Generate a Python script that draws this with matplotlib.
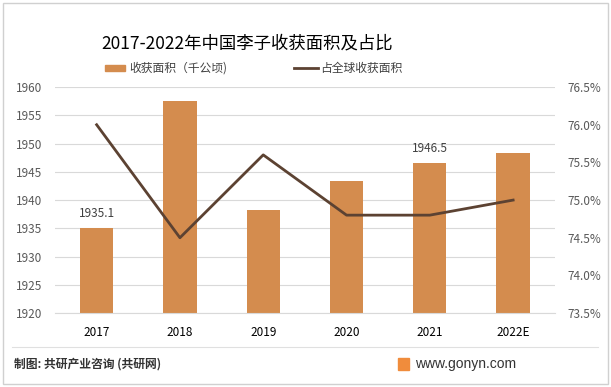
import numpy as np
import matplotlib.pyplot as plt
from matplotlib.patches import Rectangle
from matplotlib.lines import Line2D

plt.rcParams['font.family'] = ['Noto Sans CJK SC', 'DejaVu Sans']

years = ['2017', '2018', '2019', '2020', '2021', '2022E']
area = [1935.1, 1957.5, 1938.3, 1943.4, 1946.5, 1948.3]     # 千公顷
share = [76.0, 74.5, 75.6, 74.8, 74.8, 75.0]                # %
labeled = {0: '1935.1', 4: '1946.5'}

bar_color = '#D48C4E'
line_color = '#5C4232'
text_color = '#404040'

fig = plt.figure(figsize=(6.11, 3.87), dpi=100)
ax = fig.add_axes([0.09, 0.191, 0.818, 0.584])
ax2 = ax.twinx()

x = np.arange(len(years))
ax.bar(x, area, width=0.4, color=bar_color, zorder=2)
ax.set_ylim(1920, 1960)
ax.set_yticks(range(1920, 1961, 5))
ax.set_xlim(-0.5, len(years) - 0.5)
ax.set_xticks(x)
ax.set_xticklabels(years)
ax.grid(axis='y', color='#D9D9D9', linewidth=0.8, zorder=0)
ax.set_axisbelow(True)

for i, s in labeled.items():
    ax.text(x[i], area[i] + 1.4, s, ha='center', va='bottom', fontsize=8.5, color=text_color)

ax2.plot(x, share, color=line_color, linewidth=2, zorder=3)
ax2.set_ylim(73.5, 76.5)
ax2.set_yticks(np.arange(73.5, 76.51, 0.5))
ax2.set_yticklabels([f'{v:.1f}%' for v in np.arange(73.5, 76.51, 0.5)])

for a in (ax, ax2):
    for sp in a.spines.values():
        sp.set_visible(False)
    a.tick_params(length=0, labelsize=8.5, colors='#595959')
ax.spines['bottom'].set_visible(True)
ax.spines['bottom'].set_color('#D9D9D9')
ax.tick_params(axis='x', pad=9, colors='#000000')
ax.tick_params(axis='y', pad=9)
ax2.tick_params(axis='y', pad=9)

fig.text(247 / 611, 1 - 43 / 387, '2017-2022年中国李子收获面积及占比', ha='center', va='center',
         fontsize=12.5, color='#000000')

# legend
fig.patches.append(Rectangle((105 / 611, 1 - 71 / 387), 20 / 611, 6 / 387,
                             transform=fig.transFigure, color=bar_color))
fig.text(129 / 611, 1 - 68 / 387, '收获面积（千公顷)', va='center', fontsize=8.5, color=text_color)
fig.lines.append(Line2D([294 / 611, 318 / 611], [1 - 68 / 387] * 2,
                        transform=fig.transFigure, color=line_color, linewidth=2))
fig.text(320 / 611, 1 - 68 / 387, '占全球收获面积', va='center', fontsize=8.5, color=text_color)

# footer
fig.lines.append(Line2D([12 / 611, 598 / 611], [1 - 347 / 387] * 2,
                        transform=fig.transFigure, color='#E0E0E0', linewidth=0.8))
fig.text(14 / 611, 1 - 364 / 387, '制图: 共研产业咨询 (共研网)', va='center', fontsize=8.5,
         color='#333333', fontweight='bold')
fig.patches.append(Rectangle((398 / 611, 1 - 370 / 387), 11 / 611, 12 / 387,
                             transform=fig.transFigure, color='#F08C3C'))
fig.text(415 / 611, 1 - 364 / 387, 'www.gonyn.com', ha='left', va='center', fontsize=10,
         color='#333333', family='Liberation Sans')

# outer border
fig.patches.append(Rectangle((3 / 611, 3 / 387), 605 / 611, 381 / 387, transform=fig.transFigure,
                             fill=False, edgecolor='#D0D0D0', linewidth=1))

fig.savefig('out.png', dpi=100)
